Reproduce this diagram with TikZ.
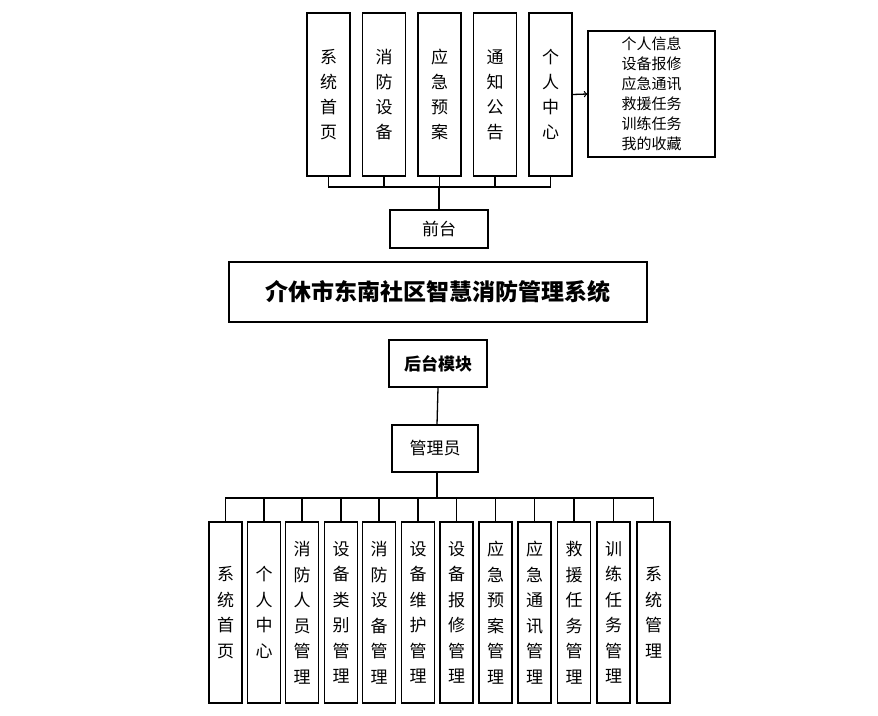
\documentclass[tikz,border=0pt]{standalone}
\usepackage{fontspec}
\setmainfont{Noto Sans CJK SC}
\begin{document}
\begin{tikzpicture}[x=1pt,y=-1pt,
  bx/.style={draw,line width=1.3pt,inner sep=0pt,align=center,font=\fontsize{17}{25}\selectfont},
  ln/.style={line width=1.3pt},
  thick2/.style={line width=2.6pt}]
\useasboundingbox (0,0) rectangle (878,715);
% top row
\foreach \n/\x/\t in {t1/328.5/系\\统\\首\\页, t2/384/消\\防\\设\\备, t3/439.5/应\\急\\预\\案, t4/495/通\\知\\公\\告, t5/550.5/个\\人\\中\\心}
  \node[bx,minimum width=43pt,minimum height=163pt] (\n) at (\x,94.5) {\t};
\node[bx,minimum width=127pt,minimum height=126pt,font=\fontsize{15}{20}\selectfont] (info) at (651.5,94) {个人信息\\设备报修\\应急通讯\\救援任务\\训练任务\\我的收藏};
\draw[ln,->] (t5.east) -- (info.west);
\node[bx,minimum width=98pt,minimum height=38pt] (qt) at (439,229) {前台};
\coordinate (b1) at (439,187);
\foreach \n in {t1,t2,t3,t4,t5} \draw[ln] (\n.south) |- (b1);
\draw[thick2] (b1) -- (qt.north);
\node[bx,minimum width=418pt,minimum height=60pt,font=\fontsize{23}{28}\selectfont\bfseries] (main) at (438,292) {介休市东南社区智慧消防管理系统};
\node[bx,minimum width=98pt,minimum height=47pt,font=\fontsize{17}{20}\selectfont\bfseries] (ht) at (438,363.5) {后台模块};
\node[bx,minimum width=86pt,minimum height=47pt] (gly) at (435,448.5) {管理员};
\draw[ln] (ht.south) -- (437,425);
\coordinate (b2) at (437,498);
\draw[thick2] (437,472) -- (b2);
\foreach \i/\x/\t in {1/225.5/系\\统\\首\\页, 2/264/个\\人\\中\\心, 3/302/消\\防\\人\\员\\管\\理, 4/341/设\\备\\类\\别\\管\\理, 5/379/消\\防\\设\\备\\管\\理, 6/418/设\\备\\维\\护\\管\\理, 7/456.5/设\\备\\报\\修\\管\\理, 8/495.5/应\\急\\预\\案\\管\\理, 9/534.5/应\\急\\通\\讯\\管\\理, 10/574/救\\援\\任\\务\\管\\理, 11/613.5/训\\练\\任\\务\\管\\理, 12/653.5/系\\统\\管\\理}
{
  \node[bx,minimum width=33pt,minimum height=181pt,font=\fontsize{17}{25.5}\selectfont] (m\i) at (\x,612.5) {\t};
  \draw[ln] (m\i.north) |- (b2);
}
\end{tikzpicture}
\end{document}
